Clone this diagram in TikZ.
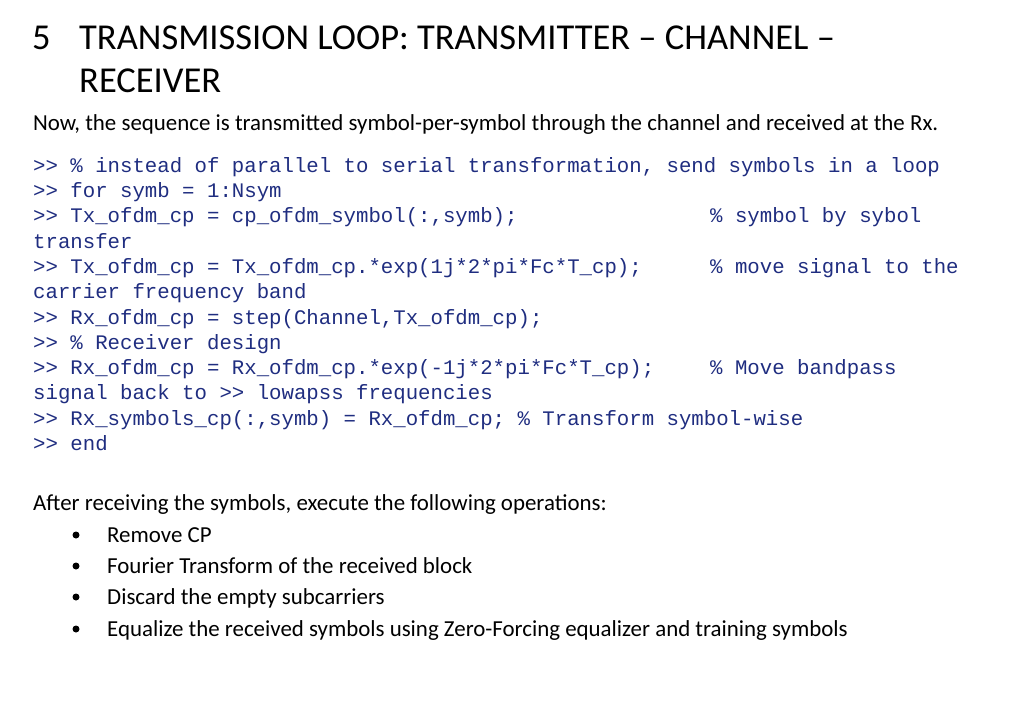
\documentclass[tikz,border=0pt]{standalone}
\usepackage{fontspec}
\setmainfont{Carlito}
\setmonofont{Liberation Mono}
\definecolor{codeblue}{HTML}{1F2D80}
\newcommand{\us}{\char95}
\begin{document}
\begin{tikzpicture}[x=1pt,y=-1pt,
  tx/.style={anchor=base west,inner sep=0pt,font=\fontsize{22.9}{24}\selectfont},
  hd/.style={anchor=base west,inner sep=0pt,font=\fontsize{36.5}{38}\selectfont},
  cd/.style={anchor=base west,inner sep=0pt,text=codeblue,font=\ttfamily\fontsize{20.7}{22}\selectfont},
  bl/.style={anchor=base west,inner sep=0pt,font=\fontsize{22.9}{24}\selectfont}]
\useasboundingbox (0,0) rectangle (1024,705);
\node[hd] (h5) at (32,49) {5};
\node[hd] (h1) at (79,49) {TRANSMISSION LOOP: TRANSMITTER -- CHANNEL --};
\node[hd] (h2) at (79,92) {RECEIVER};
\node[tx] (now) at (33,130) {Now, the sequence is transmitted symbol-per-symbol through the channel and received at the Rx.};
\node[cd] (c1) at (33,172) {>> \% instead of parallel to serial transformation, send symbols in a loop};
\node[cd] (c2) at (33,197) {>> for symb = 1:Nsym};
\node[cd] (c3) at (33,222) {>> Tx\us ofdm\us cp = cp\us ofdm\us symbol(:,symb);};
\node[cd] (c3b) at (710,222) {\% symbol by sybol};
\node[cd] (c4) at (33,248) {transfer};
\node[cd] (c5) at (33,273) {>> Tx\us ofdm\us cp = Tx\us ofdm\us cp.*exp(1j*2*pi*Fc*T\us cp);};
\node[cd] (c5b) at (710,273) {\% move signal to the};
\node[cd] (c6) at (33,298) {carrier frequency band};
\node[cd] (c7) at (33,324) {>> Rx\us ofdm\us cp = step(Channel,Tx\us ofdm\us cp);};
\node[cd] (c8) at (33,349) {>> \% Receiver design};
\node[cd] (c9) at (33,374) {>> Rx\us ofdm\us cp = Rx\us ofdm\us cp.*exp(-1j*2*pi*Fc*T\us cp);};
\node[cd] (c9b) at (710,374) {\% Move bandpass};
\node[cd] (c10) at (33,399) {signal back to >> lowapss frequencies};
\node[cd] (c11) at (33,425) {>> Rx\us symbols\us cp(:,symb) = Rx\us ofdm\us cp; \% Transform symbol-wise};
\node[cd] (c12) at (33,450) {>> end};
\node[tx] (after) at (33,510) {After receiving the symbols, execute the following operations:};
\foreach \y/\t/\n in {542/Remove CP/b1, 573/Fourier Transform of the received block/b2, 604/Discard the empty subcarriers/b3, 636/Equalize the received symbols using Zero-Forcing equalizer and training symbols/b4}{
  \fill (76,\y-7) circle (3.5);
  \node[bl] (\n) at (107,\y) {\t};
}
\end{tikzpicture}
\end{document}
